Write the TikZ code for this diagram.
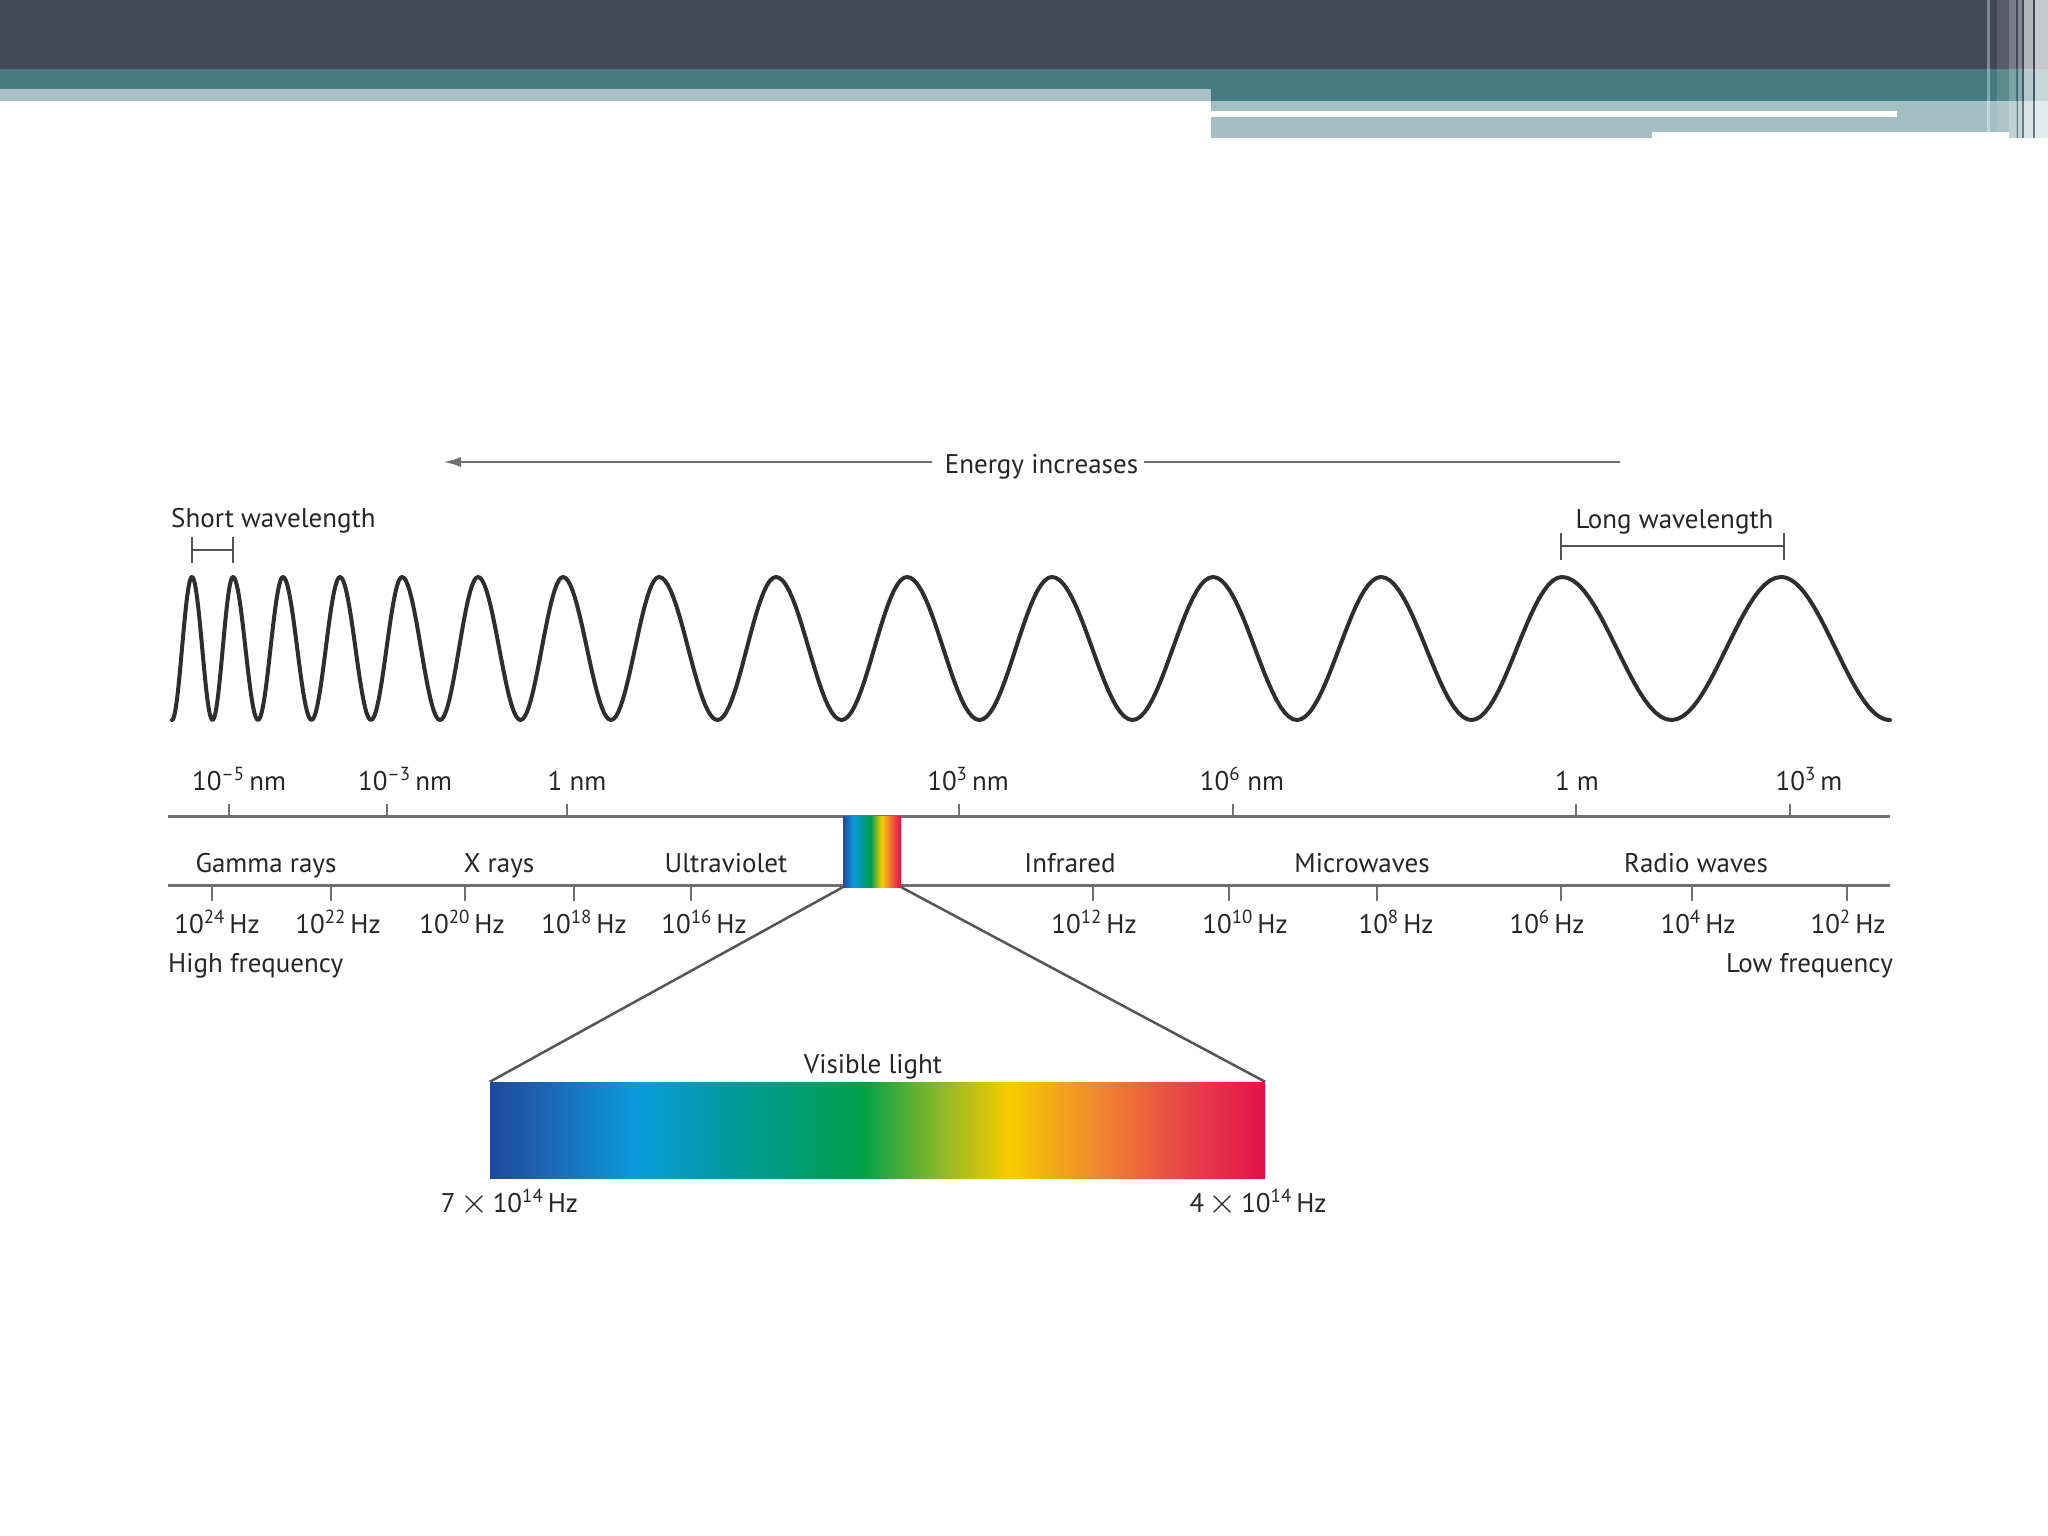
\documentclass[tikz,border=0pt]{standalone}
\usepackage{fontspec}
\setmainfont{PT Sans}
\usetikzlibrary{arrows.meta}
\definecolor{hdrdark}{HTML}{434757}
\definecolor{hdrteal}{HTML}{467C81}
\definecolor{hdrlight}{HTML}{A8C0C6}
\definecolor{hdrlightr}{HTML}{A3BFC4}
\definecolor{txt}{HTML}{262626}
\definecolor{axisgray}{HTML}{707070}
\definecolor{wavec}{HTML}{2E2E2E}
\definecolor{brk}{HTML}{555555}
\definecolor{zoomc}{HTML}{555555}
\definecolor{vb0}{HTML}{1D4A9A}
\definecolor{vb1}{HTML}{1F5CAC}
\definecolor{vb2}{HTML}{0A9BDE}
\definecolor{vb3}{HTML}{009A92}
\definecolor{vb4}{HTML}{00A04A}
\definecolor{vb5}{HTML}{8CB828}
\definecolor{vb6}{HTML}{F7CC00}
\definecolor{vb7}{HTML}{F08A2C}
\definecolor{vb8}{HTML}{E8424A}
\definecolor{vb9}{HTML}{E0124A}
\pgfdeclarehorizontalshading{visible}{100bp}{color(0bp)=(vb0); color(25bp)=(vb0); color(27.5bp)=(vb1); color(34.5bp)=(vb2); color(41.5bp)=(vb3); color(49bp)=(vb4); color(54bp)=(vb5); color(58.5bp)=(vb6); color(64bp)=(vb7); color(70bp)=(vb8); color(75bp)=(vb9); color(100bp)=(vb9)}
\newcommand\pw[1]{\textsuperscript{#1}}
\newcommand\tms{\,\raisebox{-1pt}{\scalebox{1.45}{$\times$}}\,}
\begin{document}
\begin{tikzpicture}[x=1pt,y=-1pt,
  lbl/.style={font=\fontsize{27}{32}\selectfont, text=txt, inner sep=0pt, anchor=base},
  axisline/.style={draw=axisgray, line width=3pt},
  tickmark/.style={draw=axisgray, line width=2.5pt},
  bracketline/.style={draw=brk, line width=2.5pt},
  wave/.style={draw=wavec, line width=4pt, line join=round, line cap=round},
  zoomline/.style={draw=zoomc, line width=2.5pt},
  energyline/.style={draw=axisgray, line width=2.5pt},
  specbox/.style={shading=visible, inner sep=0pt, draw=none}
]
\useasboundingbox (0,0) rectangle (2048,1536);
\fill[white] (0,0) rectangle (2048,1536);
% header
\fill[hdrdark] (0,0) rectangle (2048,69);
\fill[hdrteal] (0,69) rectangle (1211,89);
\fill[hdrteal] (1211,69) rectangle (2048,101);
\fill[hdrlight] (0,89) rectangle (1211,101);
\fill[hdrlightr] (1211,101) rectangle (1652,138);
\fill[hdrlightr] (1652,101) rectangle (2009,132);
\fill[hdrlightr] (2009,101) rectangle (2048,138);
\fill[white] (1211,111) rectangle (1897,117);
\fill[white, opacity=0.35] (1987,0) rectangle (1990,132);
\fill[white, opacity=0.12] (1997,0) rectangle (2009,132);
\fill[white, opacity=0.3] (2009,0) rectangle (2016,138);
\fill[hdrdark, opacity=0.6] (2016.5,0) rectangle (2018,138);
\fill[white, opacity=0.35] (2018,0) rectangle (2022,138);
\fill[hdrdark, opacity=0.6] (2022,0) rectangle (2023.5,138);
\fill[white, opacity=0.6] (2024,0) rectangle (2033,138);
\fill[hdrdark, opacity=0.6] (2033,0) rectangle (2034.5,138);
\fill[white, opacity=0.7] (2035,0) rectangle (2048,138);

% energy arrow
\node[lbl] (energy) at (1041.5,473) {Energy increases};
\coordinate (eL) at (443,462);
\coordinate (eR) at (1620,462);
\path (eL -| energy.west) ++(-13,0) coordinate (eLin);
\path (eR -| energy.east) ++(6,0) coordinate (eRin);
\draw[energyline, -{Latex[length=18pt,width=10pt]}] (eLin) -- (eL);
\draw[energyline] (eRin) -- (eR);

% wavelength labels and brackets
\node[lbl, anchor=base west] (shortwl) at (171,527) {Short wavelength};
\node[lbl] (longwl) at (1674.5,528) {Long wavelength};
\coordinate (sb0) at (192,550); \coordinate (sb1) at (233,550);
\draw[bracketline] (sb0) -- (sb1);
\draw[bracketline] (192,537) -- (192,563);
\draw[bracketline] (233,537) -- (233,563);
\coordinate (lb0) at (1561,546); \coordinate (lb1) at (1784,546);
\draw[bracketline] (lb0) -- (lb1);
\draw[bracketline] (1561,533) -- (1561,560);
\draw[bracketline] (1784,533) -- (1784,560);

% wave
\draw[wave] (172,720)
  \foreach \pa/\pb/\ps/\pe in {152/192/0.5/1, 192/233/0/1, 233/283/0/1, 283/340/0/1, 340/402/0/1, 402/478/0/1, 478/563/0/1, 563/659/0/1, 659/776/0/1, 776/907/0/1, 907/1052/0/1, 1052/1213/0/1, 1213/1381/0/1, 1381/1562/0/1, 1562/1781/0/1, 1781/1999/0/0.5} {
    -- plot[domain=\ps:\pe, samples=41, variable=\t] ({\pa+\t*(\pb-\pa)}, {648.5-71.5*cos(360*\t)})
  };

% axes
\coordinate (wl0) at (168,816); \coordinate (wl1) at (1890,816);
\coordinate (fq0) at (168,885); \coordinate (fq1) at (1890,885);
\draw[axisline] (wl0) -- (wl1);
\draw[axisline] (fq0) -- (fq1);
\foreach \x in {229,387,567,959,1233,1576,1790} \draw[tickmark] (\x,817) -- (\x,804);
\foreach \x in {212,331,465,574,691,1093,1229,1377,1561,1692,1847} \draw[tickmark] (\x,884) -- (\x,901);

% wavelength values
\node[lbl] (w1) at (239,790) {10\pw{–5}\,nm};
\node[lbl] (w2) at (405,790) {10\pw{–3}\,nm};
\node[lbl] (w3) at (577,790) {1 nm};
\node[lbl] (w4) at (968,790) {10\pw{3}\,nm};
\node[lbl] (w5) at (1242,790) {10\pw{6} nm};
\node[lbl] (w6) at (1577,790) {1 m};
\node[lbl] (w7) at (1809,790) {10\pw{3}\,m};

% band names
\node[lbl] (b1) at (266,872) {Gamma rays};
\node[lbl] (b2) at (499,872) {X rays};
\node[lbl] (b3) at (726,872) {Ultraviolet};
\node[lbl] (b4) at (1070,872) {Infrared};
\node[lbl] (b5) at (1362,872) {Microwaves};
\node[lbl] (b6) at (1696,872) {Radio waves};

% frequency values
\node[lbl] (f1) at (217,933) {10\pw{24}\,Hz};
\node[lbl] (f2) at (338,933) {10\pw{22}\,Hz};
\node[lbl] (f3) at (462,933) {10\pw{20}\,Hz};
\node[lbl] (f4) at (584,933) {10\pw{18}\,Hz};
\node[lbl] (f5) at (704,933) {10\pw{16}\,Hz};
\node[lbl] (f6) at (1094,933) {10\pw{12}\,Hz};
\node[lbl] (f7) at (1245,933) {10\pw{10}\,Hz};
\node[lbl] (f8) at (1396,933) {10\pw{8}\,Hz};
\node[lbl] (f9) at (1547,933) {10\pw{6}\,Hz};
\node[lbl] (f10) at (1698,933) {10\pw{4}\,Hz};
\node[lbl] (f11) at (1848,933) {10\pw{2}\,Hz};
\node[lbl, anchor=base west] (hf) at (168,972) {High frequency};
\node[lbl, anchor=base east] (lf) at (1893,972) {Low frequency};

% visible light
\node[specbox, minimum width=58pt, minimum height=71pt] (vsmall) at (872,851.5) {};
\node[specbox, minimum width=775pt, minimum height=96pt] (vbar) at (877.5,1130) {};
\draw[zoomline] (vsmall.south west) -- (vbar.north west);
\draw[zoomline] (vsmall.south east) -- (vbar.north east);
\node[lbl] (vis) at (873,1073) {Visible light};
\node[lbl] (v7) at (509.5,1212) {7\tms 10\pw{14}\,Hz};
\node[lbl] (v4) at (1258,1212) {4\tms 10\pw{14}\,Hz};
\end{tikzpicture}
\end{document}
